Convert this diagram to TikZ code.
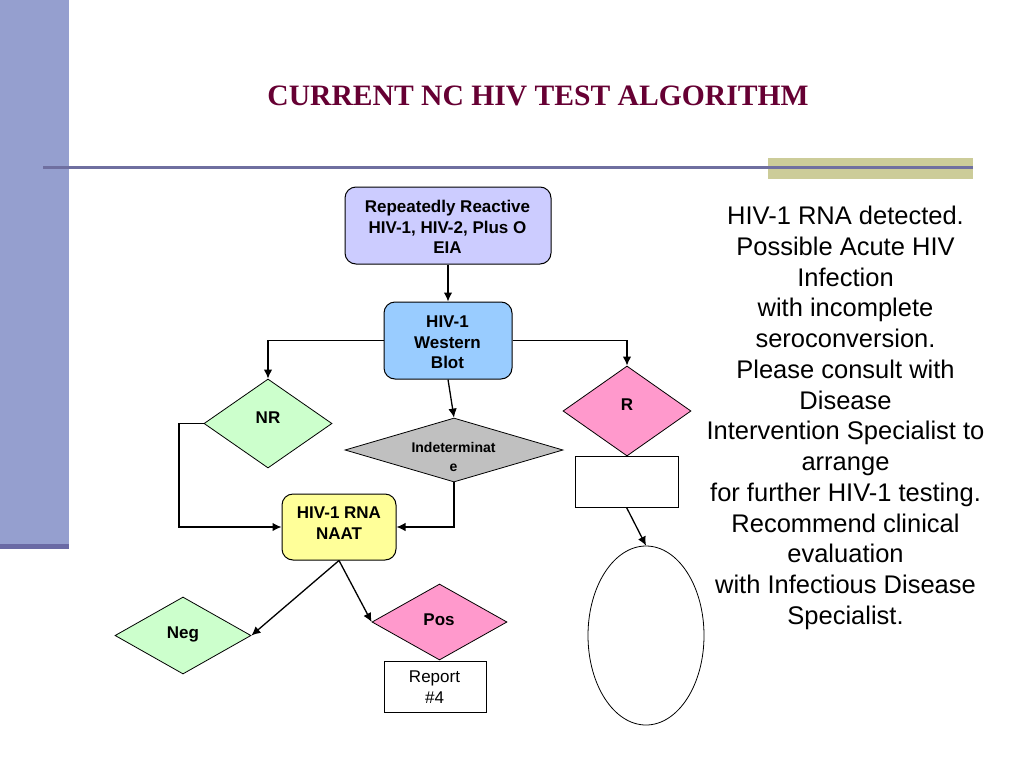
\documentclass[tikz,border=0pt]{standalone}
\usepackage{fontspec}
\setmainfont{Liberation Sans}
\newfontfamily\titlefont{Liberation Serif}
\usetikzlibrary{shapes.geometric,arrows.meta,calc}
\definecolor{sidebar}{HTML}{959FCF}
\definecolor{sidedark}{HTML}{6A6AA5}
\definecolor{rulec}{HTML}{6F6FA0}
\definecolor{olive}{HTML}{CCCC99}
\definecolor{titlec}{HTML}{660033}
\definecolor{boxblue}{HTML}{CCCCFF}
\definecolor{wbblue}{HTML}{99CCFF}
\definecolor{naat}{HTML}{FFFF99}
\definecolor{green}{HTML}{CCFFCC}
\definecolor{pink}{HTML}{FF99CC}
\definecolor{grayd}{HTML}{C0C0C0}
\tikzset{
 x=1pt,y=-1pt,
 flowbox/.style={draw=black,line width=1pt,rounded corners=11pt,inner sep=0pt},
 choice/.style={draw=black,line width=0.8pt,shape=diamond,inner sep=0pt},
 lab/.style={align=center,inner sep=0pt,font=\fontsize{17}{20.7}\selectfont\bfseries},
 plainbox/.style={draw=black,line width=0.8pt,fill=white,inner sep=0pt,align=center},
 conn/.style={draw=black,line width=1.3pt,-{Latex[length=9pt,width=8.5pt]}},
}
\begin{document}
\begin{tikzpicture}
\useasboundingbox (0,0) rectangle (1024,768);
\fill[white] (0,0) rectangle (1024,768);
% decoration
\fill[sidebar] (0,0) rectangle (68.5,546);
\fill[sidedark] (0,544) rectangle (68.5,549);
\fill[olive] (768,158) rectangle (973,179);
\draw[rulec,line width=3pt] (43,167) -- (973,167);
\node[inner sep=0pt,text=titlec,font=\titlefont\fontsize{29.6}{36}\selectfont\bfseries] (title) at (538,96) {CURRENT NC HIV TEST ALGORITHM};
% boxes
\node[flowbox,fill=boxblue,minimum width=206pt,minimum height=77pt] (rr) at (448,225.5) {};
\node[flowbox,fill=wbblue,minimum width=128pt,minimum height=77pt] (wb) at (448,340.5) {};
\node[flowbox,fill=naat,minimum width=114pt,minimum height=66pt] (naat) at (339,527) {};
\node[lab] (rrt) at (447.5,227) {Repeatedly Reactive\\HIV-1, HIV-2, Plus O\\EIA};
\node[lab] (wbt) at (447.5,342.5) {HIV-1\\Western\\Blot};
\node[lab] (naatt) at (339,523) {HIV-1 RNA\\NAAT};
% diamonds
\node[choice,fill=green,aspect=1.44,minimum width=128pt,minimum height=89pt] (nr) at (268,423.5) {};
\node[choice,fill=grayd,aspect=3.4,minimum width=218pt,minimum height=64pt] (ind) at (454,450) {};
\node[choice,fill=pink,aspect=1.42,minimum width=128pt,minimum height=90pt] (r) at (627,411) {};
\node[choice,fill=green,aspect=1.77,minimum width=136pt,minimum height=77pt] (neg) at (183,635.5) {};
\node[choice,fill=pink,aspect=1.78,minimum width=135pt,minimum height=76pt] (pos) at (439.5,622) {};
\node[lab] (nrt) at (268,417.5) {NR};
\node[lab,font=\fontsize{14}{19}\selectfont\bfseries] (indt) at (453.5,456.5) {Indeterminat\\e};
\node[lab] (rt) at (627,404.5) {R};
\node[lab] (negt) at (183,634) {Neg};
\node[lab] (post) at (439,619.5) {Pos};
% plain shapes
\node[plainbox,minimum width=103pt,minimum height=51pt] (blank) at (626.5,481.5) {};
\node[plainbox,shape=ellipse,minimum width=116pt,minimum height=179pt] (oval) at (646,635.5) {};
\node[plainbox,minimum width=102pt,minimum height=51pt] (rep) at (435,686.5) {};
\node[lab,font=\fontsize{17}{21}\selectfont] (rept) at (434.5,687.5) {Report\\\#4};
% connectors
\draw[conn] (rr.south) -- (wb.north);
\draw[conn] (wb.west) -| (nr.north);
\draw[conn] (wb.east) -| (r.north);
\draw[conn] (wb.south) -- (ind.north);
\coordinate (nrbend) at (179,423.5);
\draw[conn] (nr.west) -- (nrbend) |- (naat.west);
\draw[conn] (ind.south) |- (naat.east);
\draw[conn] (naat.south) -- (neg.east);
\draw[conn] (naat.south) -- (pos.west);
\draw[conn] (blank.south) -- (oval.north);
% side text
\node[inner sep=0pt,align=center,font=\fontsize{25.5}{30.75}\selectfont] (side) at (845.5,418) {HIV-1 RNA detected.\\Possible Acute HIV\\Infection\\with incomplete\\seroconversion.\\Please consult with\\Disease\\Intervention Specialist to\\arrange\\for further HIV-1 testing.\\Recommend clinical\\evaluation\\with Infectious Disease\\Specialist.};
\end{tikzpicture}
\end{document}
